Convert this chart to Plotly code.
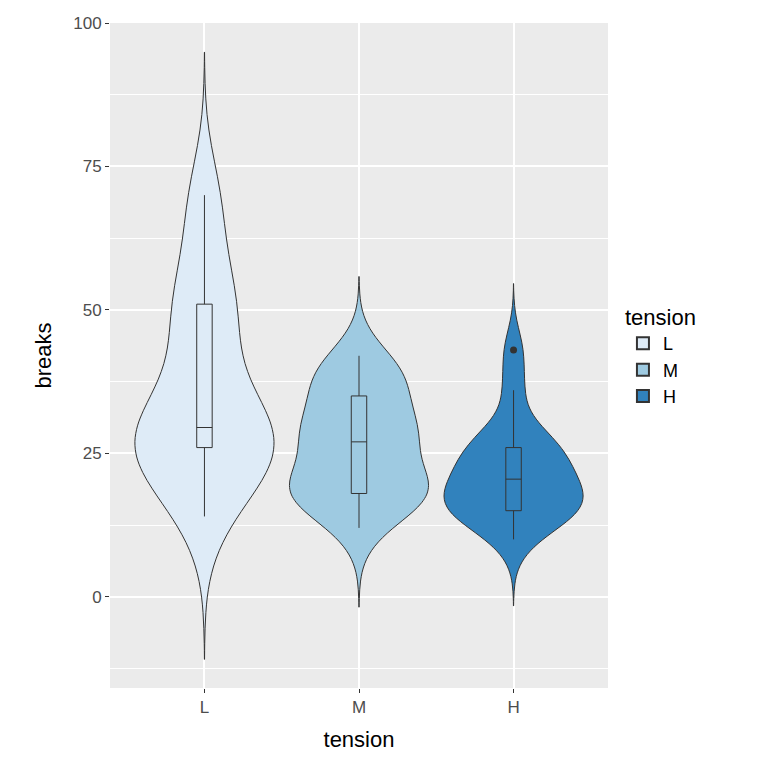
import numpy as np
import plotly.graph_objects as go

tension = ["L", "M", "H"]
breaks_L = [26, 30, 54, 25, 70, 52, 51, 26, 67, 27, 14, 29, 19, 29, 31, 41, 20, 44]
breaks_M = [18, 21, 29, 17, 12, 18, 35, 30, 36, 42, 26, 19, 16, 39, 28, 21, 39, 29]
breaks_H = [36, 21, 24, 18, 10, 43, 28, 15, 26, 20, 21, 24, 17, 13, 15, 15, 16, 28]
colors = ["#DEEBF7", "#9ECAE1", "#3182BD"]
data = [breaks_L, breaks_M, breaks_H]

def nrd0(x):
    x = np.asarray(x, float)
    sd = x.std(ddof=1)
    q = np.percentile(x, [25, 75])
    iqr = (q[1] - q[0]) / 1.34
    return 0.9 * min(sd, iqr) * len(x) ** -0.2

fig = go.Figure()
for t, vals, c in zip(tension, data, colors):
    bw = nrd0(vals)
    fig.add_trace(go.Violin(
        x=[t] * len(vals), y=vals, name=t, legendgroup=t,
        fillcolor=c, line=dict(color="#333333", width=1), opacity=1,
        bandwidth=bw, spanmode="manual", span=[min(vals) - 3 * bw, max(vals) + 3 * bw],
        width=0.9, scalegroup="all", scalemode="count",
        points=False, box_visible=False, meanline_visible=False,
        hoverinfo="skip"))
for t, vals, c in zip(tension, data, colors):
    fig.add_trace(go.Box(
        x=[t] * len(vals), y=vals, name=t, legendgroup=t, showlegend=False,
        fillcolor=c, line=dict(color="#333333", width=1), width=0.1,
        boxpoints="outliers", marker=dict(color="#333333", size=7),
        whiskerwidth=0, quartilemethod="inclusive"))

fig.update_layout(
    width=768, height=768, plot_bgcolor="#EBEBEB", paper_bgcolor="white",
    margin=dict(l=102, r=168, t=15, b=88, autoexpand=False),
    violinmode="overlay", boxmode="overlay",
    font=dict(family="Liberation Sans, Arial", size=17, color="#4D4D4D"),
    xaxis=dict(title=dict(text="tension", font=dict(size=22, color="black")),
               categoryorder="array", categoryarray=tension,
               tickfont=dict(size=17, color="#4D4D4D"),
               showgrid=True, gridcolor="white", gridwidth=1.5,
               ticks="outside", ticklen=4, tickcolor="#333333", zeroline=False),
    yaxis=dict(title=dict(text="breaks", font=dict(size=22, color="black")),
               range=[-15.9, 100], tickvals=[0, 25, 50, 75, 100],
               tickfont=dict(size=17, color="#4D4D4D"),
               showgrid=True, gridcolor="white", gridwidth=1.5,
               minor=dict(tickvals=[-12.5, 12.5, 37.5, 62.5, 87.5], showgrid=True,
                          gridcolor="white", gridwidth=0.7),
               ticks="outside", ticklen=4, tickcolor="#333333", zeroline=False),
    legend=dict(title=dict(text="tension", font=dict(size=22, color="black")),
                x=1.03, y=0.5, yanchor="middle", font=dict(size=18, color="black"),
                tracegroupgap=0, itemsizing="constant"),
)
fig.write_html("out.html")
